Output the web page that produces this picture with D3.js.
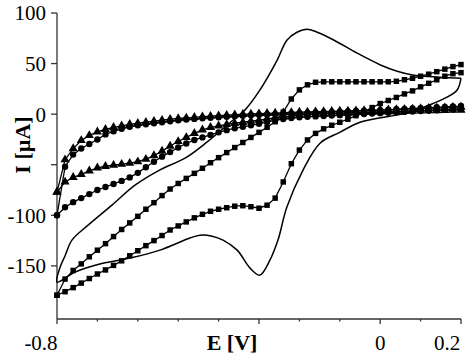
<!DOCTYPE html>
<html>
<head>
<meta charset="utf-8">
<script src="https://cdn.jsdelivr.net/npm/d3@7"></script>
<style>
  body { margin: 0; background: #fff; }
  svg { display: block; }
  text { font-family: "Liberation Serif", "Times New Roman", "DejaVu Serif", serif; }
</style>
</head>
<body>
<div id="chart"></div>
<script>
// Potential grid for the marked voltammograms (V)
const potential = [-0.80, -0.78, -0.76, -0.74, -0.72, -0.70, -0.68, -0.66, -0.64, -0.62,
  -0.60, -0.58, -0.56, -0.54, -0.52, -0.50, -0.48, -0.46, -0.44, -0.42,
  -0.40, -0.38, -0.36, -0.34, -0.32, -0.30, -0.28, -0.26, -0.24, -0.22,
  -0.20, -0.18, -0.16, -0.14, -0.12, -0.10, -0.08, -0.06, -0.04, -0.02,
  0.00, 0.02, 0.04, 0.06, 0.08, 0.10, 0.12, 0.14, 0.16, 0.18, 0.20];

// squares: anodic (upper) and cathodic (lower) branch, uA
const squareFwd = [-179, -163, -154.5, -148, -141, -134.5, -128, -121, -114, -107.5,
  -101, -94, -87.5, -80.5, -74, -68.5, -63.5, -58.5, -53.5, -48,
  -43, -38, -33, -28, -23, -18, -13, -7.5, 2, 15,
  24, 29, 31.5, 32, 32, 32, 32, 32, 32, 32,
  32, 32, 32.5, 34, 35.5, 37.5, 39.5, 42, 44.5, 47, 49];
const squareRev = [-179, -175.5, -171.5, -167, -162.5, -158, -154, -149.5, -145, -140,
  -135, -130, -125, -120, -114.5, -110.5, -106.5, -102.5, -99, -96,
  -94, -92.5, -91, -90.5, -91.5, -93, -90, -83, -67, -49,
  -35.5, -25.5, -19, -14.5, -11, -8, -5, -1.5, 2.5, 6.5,
  10.5, 13.5, 16.5, 20, 23, 27, 30.5, 34, 37.5, 40, 41];

// circles
const circleFwd = [-100, -52, -40, -34, -29.5, -25, -20, -17, -14.5, -12.5,
  -11, -10, -9, -8, -7, -6, -5.3, -4.7, -4.1, -3.5,
  -3, -2.5, -2, -1.5, -1.1, -0.7, -0.3, 0, 0.3, 0.6,
  1, 1.3, 1.6, 1.9, 2.2, 2.5, 2.8, 3.1, 3.4, 3.7,
  4, 4.4, 4.8, 5.2, 5.6, 6, 6.4, 6.8, 7.2, 7.6, 8];
const circleRev = [-100, -92, -87, -83, -79, -75, -72, -69, -66, -62.5,
  -58, -52.5, -47, -42, -37.5, -33, -29, -25.5, -23, -20.5,
  -18, -15.8, -14, -12.5, -11, -9.5, -7.8, -6, -4.8, -3.8,
  -3, -2.6, -2.2, -1.8, -1.4, -1, -0.6, -0.2, 0.2, 0.6,
  1, 1.4, 1.8, 2.2, 2.6, 3, 3.4, 3.8, 4.2, 4.6, 5];

// triangles
const triangleFwd = [-77, -45, -34, -26, -21, -17.5, -15, -13, -11.5, -10,
  -9, -8, -7, -6, -5, -4.3, -3.7, -3.1, -2.5, -2,
  -1.5, -1, -0.6, -0.2, 0.2, 0.5, 0.8, 1.1, 1.4, 1.7,
  2, 2.2, 2.4, 2.6, 2.8, 3, 3.2, 3.4, 3.6, 3.8,
  4, 4.3, 4.6, 4.9, 5.2, 5.5, 5.8, 6.1, 6.4, 6.7, 7];
const triangleRev = [-77, -67, -62.5, -59.5, -56, -53, -51.5, -50.5, -49.5, -48.5,
  -47, -44.5, -41, -36.5, -31.5, -27, -23, -19, -15.5, -13,
  -11.5, -10.2, -9, -8, -7, -6, -4.6, -3.5, -2.6, -1.8,
  -1, -0.5, -0.1, 0.2, 0.5, 0.8, 1.1, 1.4, 1.7, 2,
  2.2, 2.4, 2.6, 2.8, 3, 3.2, 3.4, 3.6, 3.8, 3.9, 4];

// plain voltammogram (no markers), cathodic sweep then anodic sweep
const plainV = [0.200, 0.190, 0.150, 0.108, 0.066, -0.050, -0.100, -0.149, -0.191, -0.231,
  -0.253, -0.273, -0.298, -0.322, -0.354, -0.389, -0.416, -0.446, -0.471, -0.545,
  -0.619, -0.694, -0.755, -0.800, -0.793, -0.780, -0.763, -0.723, -0.664, -0.607,
  -0.545, -0.483, -0.429, -0.359, -0.335, -0.298, -0.255, -0.231, -0.206, -0.181,
  -0.156, -0.114, -0.057, 0.002, 0.042, 0.084, 0.148, 0.200];
const plainI = [35.6, 23.7, 13.8, 6.9, 1.0, -8, -18, -28.7, -55.3, -91.9,
  -124.5, -144.3, -159.1, -152.2, -134.4, -124.5, -120.6, -119.6, -122.5, -134.4,
  -142.3, -148.2, -156.1, -166, -152, -140, -124.5, -109.7, -89.9, -70.2,
  -55, -43.5, -27.7, -4.0, 4.0, 23.7, 53.4, 73.1, 81.0, 84.0,
  81.0, 73.1, 60.3, 48.4, 42.5, 38.5, 36.6, 35.6];

const xLabels = ["-0.8", "0", "0.2"];
const xMajor = [-0.8, -0.3, 0, 0.2];
const xMinor = [-0.7, -0.6, -0.5, -0.4, -0.2, -0.1, 0.1];
const yTicks = [100, 50, 0, -50, -100, -150];
const yLabels = ["100", "50", "0", "-100", "-150"];

const width = 474, height = 360;
const svg = d3.select("#chart").append("svg")
  .attr("width", width).attr("height", height);
svg.append("rect").attr("width", width).attr("height", height).attr("fill", "#fff");

const x = d3.scaleLinear().domain([-0.8, 0.2]).range([57, 461]);
const y = d3.scaleLinear().domain([-202.5, 100]).range([319, 13]);

// axes
const axisColor = "#333";
const y0 = y.range()[0];
svg.append("line").attr("x1", x(-0.8)).attr("x2", x(0.2))
  .attr("y1", y0).attr("y2", y0)
  .attr("stroke", axisColor).attr("stroke-width", 1.3);
svg.append("line").attr("x1", x(-0.8)).attr("x2", x(-0.8))
  .attr("y1", y0).attr("y2", y(100))
  .attr("stroke", axisColor).attr("stroke-width", 1.3);

svg.append("g").selectAll("line").data(xMajor).join("line")
  .attr("x1", d => x(d)).attr("x2", d => x(d))
  .attr("y1", y0).attr("y2", y0 + 5)
  .attr("stroke", axisColor).attr("stroke-width", 1.3);
svg.append("g").selectAll("line").data(xMinor).join("line")
  .attr("x1", d => x(d)).attr("x2", d => x(d))
  .attr("y1", y0).attr("y2", y0 + 2.5)
  .attr("stroke", axisColor).attr("stroke-width", 1.3);

svg.append("g").selectAll("text").data(xLabels).join("text")
  .attr("x", d => x(+d) + (d === "-0.8" ? -16 : d === "0.2" ? -14 : 0))
  .attr("y", 350)
  .attr("text-anchor", "middle")
  .attr("font-size", "21px")
  .text(d => d);

svg.append("g").selectAll("line").data(yTicks).join("line")
  .attr("x1", x(-0.8) - 6).attr("x2", x(-0.8))
  .attr("y1", d => y(d)).attr("y2", d => y(d))
  .attr("stroke", axisColor).attr("stroke-width", 1.3);

svg.append("g").selectAll("text").data(yLabels).join("text")
  .attr("x", 46)
  .attr("y", d => y(+d))
  .attr("dy", "0.35em")
  .attr("text-anchor", "end")
  .attr("font-size", "21px")
  .text(d => d);

// axis titles
svg.append("text")
  .attr("x", 232).attr("y", 350)
  .attr("text-anchor", "middle")
  .attr("font-size", "22px").attr("font-weight", "bold")
  .text("E [V]");
svg.append("text")
  .attr("transform", "translate(30,145) rotate(-90)")
  .attr("text-anchor", "middle")
  .attr("font-size", "22px").attr("font-weight", "bold")
  .text("I [µA]");

// plain curve
const plainPts = plainV.map((v, i) => [v, plainI[i]]);
const smooth = d3.line().x(d => x(d[0])).y(d => y(d[1])).curve(d3.curveCatmullRom.alpha(0.5));
svg.append("path").datum(plainPts)
  .attr("d", smooth)
  .attr("fill", "none").attr("stroke", "#000").attr("stroke-width", 1.5);

// marked curves
const series = [
  { fwd: squareFwd, rev: squareRev, symbol: d3.symbolSquare, size: 30 },
  { fwd: circleFwd, rev: circleRev, symbol: d3.symbolCircle, size: 32 },
  { fwd: triangleFwd, rev: triangleRev, symbol: d3.symbolTriangle, size: 36 },
];
const straight = d3.line().x(d => x(d[0])).y(d => y(d[1]));

series.forEach((s) => {
  const fwd = potential.map((v, i) => [v, s.fwd[i]]);
  const rev = potential.map((v, i) => [v, s.rev[i]]);
  const g = svg.append("g");
  [fwd, rev].forEach((pts) => {
    g.append("path").datum(pts)
      .attr("d", straight)
      .attr("fill", "none").attr("stroke", "#000").attr("stroke-width", 1.3);
    g.append("g").selectAll("path").data(pts).join("path")
      .attr("transform", d => `translate(${x(d[0])},${y(d[1])})`)
      .attr("d", d3.symbol().type(s.symbol).size(s.size))
      .attr("fill", "#000");
  });
});
</script>
</body>
</html>
